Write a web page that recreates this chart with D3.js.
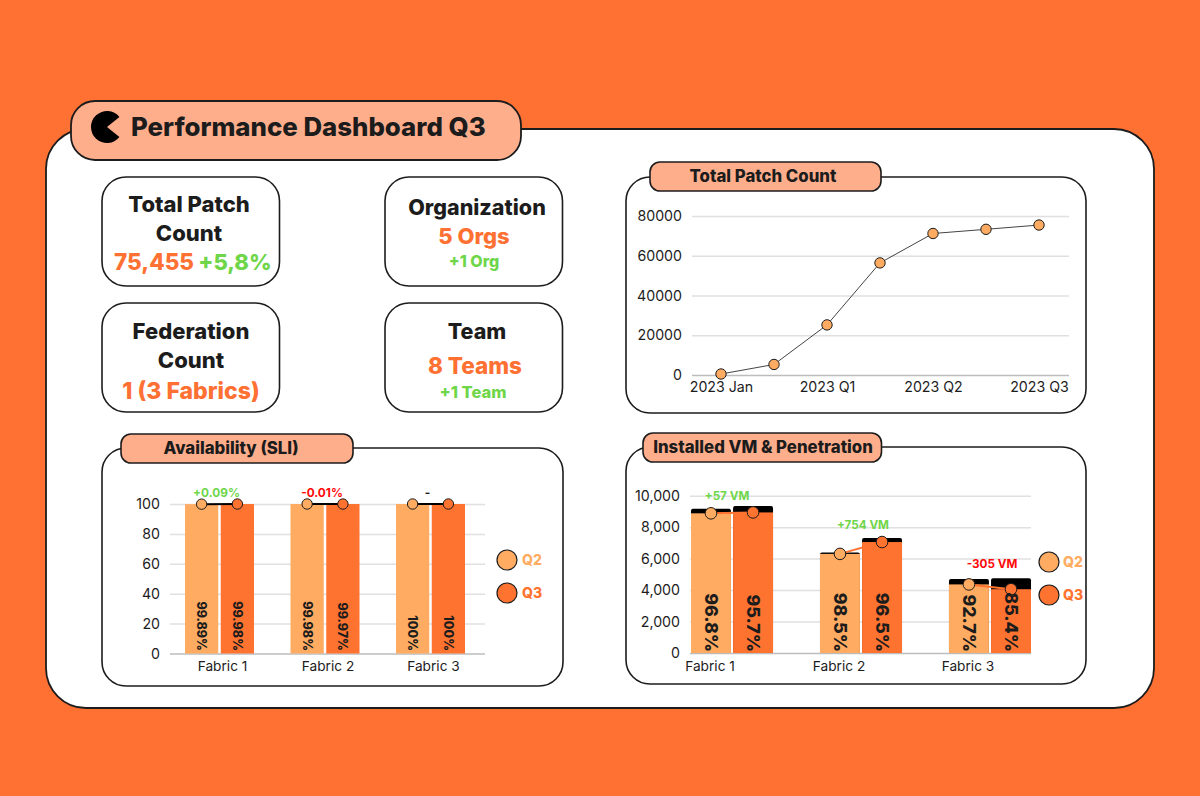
<!DOCTYPE html>
<html>
<head>
<meta charset="utf-8">
<title>Performance Dashboard Q3</title>
<script src="https://cdn.jsdelivr.net/npm/d3@7/dist/d3.min.js"></script>
<style>
  html, body { margin: 0; padding: 0; background: #FF7033; }
  svg { display: block; }
  text { font-family: Inter, "Noto Sans", sans-serif; }
</style>
</head>
<body>
<svg id="board" width="1200" height="796"></svg>
<script>
// Patch count over time
const patchPeriods = ["2023 Jan", "2023 Feb", "2023 Q1", "2023 Apr", "2023 Q2", "2023 Aug", "2023 Q3"];
const patchLabelled = ["2023 Jan", "2023 Q1", "2023 Q2", "2023 Q3"];
const patchCounts = [500, 5300, 25200, 56400, 71200, 73300, 75455];
const patchTicks = [0, 20000, 40000, 60000, 80000];

// Per-fabric figures
const fabrics = ["Fabric 1", "Fabric 2", "Fabric 3"];
const quarters = ["Q2", "Q3"];

const slaQ2 = [99.89, 99.98, 100];
const slaQ3 = [99.98, 99.97, 100];
const slaQ2Labels = ["99.89%", "99.98%", "100%"];
const slaQ3Labels = ["99.98%", "99.97%", "100%"];
const slaDeltas = ["+0.09%", "-0.01%", "-"];
const slaTicks = [0, 20, 40, 60, 80, 100];

const installedQ2 = [8880, 6300, 4360];
const installedQ3 = [8937, 7054, 4055];
const penetrationQ2 = [96.8, 98.5, 92.7];
const penetrationQ3 = [95.7, 96.5, 85.4];
const vmDeltas = ["+57 VM", "+754 VM", "-305 VM"];
const vmTicks = [0, 2000, 4000, 6000, 8000, 10000];

const COL = {
  q2: "#FFAB61", q3: "#FF7330", tab: "#FFAE8C", ink: "#1C1C1C",
  orange: "#FF7033", green: "#6FD64A", red: "#FF0A0A", grid: "#E0E0E0", base: "#BDBDBD"
};
const quarterColor = d3.scaleOrdinal(quarters, [COL.q2, COL.q3]);

const svg = d3.select("#board");

function box(x, y, w, h, r, fill, sw = 1.6) {
  svg.append("rect").attr("x", x).attr("y", y).attr("width", w).attr("height", h)
    .attr("rx", r).attr("fill", fill).attr("stroke", COL.ink).attr("stroke-width", sw);
}
function label(parent, x, y, str, size, color, weight = 700, anchor = "middle") {
  return parent.append("text").attr("x", x).attr("y", y).attr("dy", "0.36em")
    .attr("text-anchor", anchor).attr("font-size", size).attr("font-weight", weight)
    .attr("fill", color).text(str);
}

// Outer sheet and title pill
box(46, 129, 1108, 579, 40, "#fff", 1.8);
box(71, 101, 450, 59, 24, COL.tab, 1.8);
svg.append("path")
  .attr("transform", "translate(107,127)")
  .attr("d", d3.arc()({ innerRadius: 0, outerRadius: 16, startAngle: Math.PI / 2 + 0.68, endAngle: Math.PI * 2.5 - 0.68 }))
  .attr("fill", "#000");
label(svg, 131, 127, "Performance Dashboard Q3", 25.8, COL.ink, 800, "start");

// KPI cards
const cardRects = [[102, 177], [385, 177], [102, 303], [385, 303]];
cardRects.forEach(([x, y]) => box(x, y, 177.5, 109, 24, "#fff"));
label(svg, 189, 204, "Total Patch", 22, COL.ink, 800);
label(svg, 189, 233, "Count", 22, COL.ink, 800);
label(svg, 154, 262, "75,455", 22.5, COL.orange, 800);
label(svg, 235, 262, "+5,8%", 22, COL.green, 800);
label(svg, 477, 207, "Organization", 21.5, COL.ink, 800);
label(svg, 474, 236, "5 Orgs", 22, COL.orange, 800);
label(svg, 474, 261, "+1 Org", 16, COL.green, 800);
label(svg, 191, 331, "Federation", 22, COL.ink, 800);
label(svg, 191, 360, "Count", 22, COL.ink, 800);
label(svg, 191, 391, "1 (3 Fabrics)", 23, COL.orange, 800);
label(svg, 477, 331, "Team", 21.5, COL.ink, 800);
label(svg, 475, 366, "8 Teams", 22.5, COL.orange, 800);
label(svg, 473, 392, "+1 Team", 16.5, COL.green, 800);

// Chart frames with their tabs
box(626, 177, 460, 236, 24, "#fff");
box(650, 162, 231, 29, 10, COL.tab);
label(svg, 763, 175.5, "Total Patch Count", 16.8, COL.ink, 800);
box(102, 448, 461, 238, 24, "#fff");
box(121, 434, 232, 29, 10, COL.tab);
label(svg, 231, 448, "Availability (SLI)", 16.8, COL.ink, 800);
box(626, 447, 460, 237, 24, "#fff");
box(643, 433, 238.5, 29, 10, COL.tab);
label(svg, 763, 447, "Installed VM & Penetration", 16.8, COL.ink, 800);

function styleAxis(g) {
  g.select(".domain").remove();
  g.selectAll("text").attr("font-size", 14.2).attr("fill", COL.ink);
}

function yAxis(scale, left, right, ticks, fmt) {
  const g = svg.append("g").attr("transform", `translate(${left},0)`)
    .call(d3.axisLeft(scale).tickValues(ticks).tickFormat(fmt).tickSize(left - right).tickPadding(10));
  styleAxis(g);
  g.selectAll("line").attr("stroke", d => d === 0 ? COL.base : COL.grid).attr("stroke-width", 1.5);
}

// Total patch count line
{
  const x = d3.scalePoint(patchPeriods, [721, 1039]);
  const y = d3.scaleLinear([0, 80000], [375, 216]);
  yAxis(y, 692, 1069, patchTicks, d3.format("d"));
  const xg = svg.append("g").attr("transform", "translate(0,375)")
    .call(d3.axisBottom(x).tickValues(patchLabelled).tickSize(0).tickPadding(7));
  styleAxis(xg);
  const points = patchPeriods.map((p, i) => [x(p), y(patchCounts[i])]);
  svg.append("path").attr("d", d3.line()(points)).attr("fill", "none")
    .attr("stroke", "#444").attr("stroke-width", 1);
  svg.append("g").selectAll("circle").data(points).join("circle")
    .attr("cx", d => d[0]).attr("cy", d => d[1]).attr("r", 5.2)
    .attr("fill", COL.q2).attr("stroke", COL.ink).attr("stroke-width", 1);
}

// Grouped bars shared by the two fabric charts
function fabricScales(left, right, padInner, subPad) {
  const x = d3.scaleBand(fabrics, [left, right]).paddingInner(padInner).paddingOuter(0);
  const sub = d3.scaleBand(quarters, [0, x.bandwidth()]).paddingInner(subPad);
  return { x, sub };
}
function fabricAxis(x, baseY, shift) {
  const g = svg.append("g").attr("transform", `translate(0,${baseY})`)
    .call(d3.axisBottom(x).tickSize(0).tickPadding(8));
  styleAxis(g);
  g.selectAll("text").attr("font-size", 13.7).attr("dx", shift);
}
function legend(cx, tx, ys) {
  quarters.forEach((q, i) => {
    svg.append("circle").attr("cx", cx).attr("cy", ys[i]).attr("r", 10)
      .attr("fill", quarterColor(q)).attr("stroke", COL.ink).attr("stroke-width", 1.2);
    label(svg, tx, ys[i], q, 14, quarterColor(q), 800, "start");
  });
}
function valueLabel(cx, bottom, str, size) {
  svg.append("text").attr("transform", `translate(${cx},${bottom}) rotate(90)`)
    .attr("text-anchor", "end").attr("dy", "0.36em")
    .attr("font-size", size).attr("font-weight", 800).attr("fill", COL.ink).text(str);
}

// Availability chart
{
  const { x, sub } = fabricScales(185, 465, 0.346, 0.07);
  const y = d3.scaleLinear([0, 100], [653.5, 504]);
  yAxis(y, 170, 485, slaTicks, d3.format("d"));
  fabricAxis(x, 653.5, 3);
  fabrics.forEach((f, i) => {
    const vals = [slaQ2[i], slaQ3[i]];
    const texts = [slaQ2Labels[i], slaQ3Labels[i]];
    quarters.forEach((q, j) => {
      svg.append("rect").attr("x", x(f) + sub(q)).attr("y", y(vals[j]))
        .attr("width", sub.bandwidth()).attr("height", y(0) - y(vals[j]))
        .attr("fill", quarterColor(q));
      valueLabel(x(f) + sub(q) + sub.bandwidth() / 2, 651, texts[j], 12.5);
    });
    const pts = quarters.map((q, j) => [x(f) + sub(q) + sub.bandwidth() / 2, y(vals[j])]);
    svg.append("path").attr("d", d3.line()(pts)).attr("stroke", "#000").attr("stroke-width", 2).attr("fill", "none");
    quarters.forEach((q, j) => {
      svg.append("circle").attr("cx", pts[j][0]).attr("cy", pts[j][1]).attr("r", 5.2)
        .attr("fill", quarterColor(q)).attr("stroke", COL.ink).attr("stroke-width", 1);
    });
    const d = slaDeltas[i];
    label(svg, x(f) + x.bandwidth() / 2 - 3, 493, d, 11.8, d[0] === "+" ? COL.green : d === "-" ? COL.ink : COL.red);
  });
  legend(507, 522, [560, 593]);
}

// Installed VM chart: the black cap is the remainder up to the full VM count
{
  const { x, sub } = fabricScales(691, 1031, 0.364, 0.05);
  const y = d3.scaleLinear([0, 10000], [653, 495.7]);
  yAxis(y, 690, 1031, vmTicks, d3.format(","));
  fabricAxis(x, 653, -22);
  const deltaY = [496, 525, 564];
  fabrics.forEach((f, i) => {
    const inst = [installedQ2[i], installedQ3[i]];
    const pen = [penetrationQ2[i], penetrationQ3[i]];
    quarters.forEach((q, j) => {
      const total = inst[j] / (pen[j] / 100);
      svg.append("rect").attr("x", x(f) + sub(q)).attr("y", y(total))
        .attr("width", sub.bandwidth()).attr("height", y(0) - y(total))
        .attr("rx", 2).attr("fill", "#000");
      svg.append("rect").attr("x", x(f) + sub(q)).attr("y", y(inst[j]))
        .attr("width", sub.bandwidth()).attr("height", y(0) - y(inst[j]))
        .attr("fill", quarterColor(q));
    });
    const pts = quarters.map((q, j) => [x(f) + sub(q) + sub.bandwidth() / 2, y(inst[j])]);
    svg.append("path").attr("d", d3.line()(pts)).attr("stroke", COL.q3).attr("stroke-width", 2).attr("fill", "none");
    quarters.forEach((q, j) => {
      svg.append("circle").attr("cx", pts[j][0]).attr("cy", pts[j][1]).attr("r", 5.8)
        .attr("fill", quarterColor(q)).attr("stroke", COL.ink).attr("stroke-width", 1);
      // Percentages go last so a low marker never hides their first digit
      valueLabel(pts[j][0], 652, pen[j].toFixed(1) + "%", 17.8);
    });
    const d = vmDeltas[i];
    label(svg, x(f) + x.bandwidth() / 2 + [-5, 2, 2][i], deltaY[i], d, 11.7, d[0] === "+" ? COL.green : COL.red);
  });
  legend(1049, 1063, [562, 595]);
}
</script>
</body>
</html>
